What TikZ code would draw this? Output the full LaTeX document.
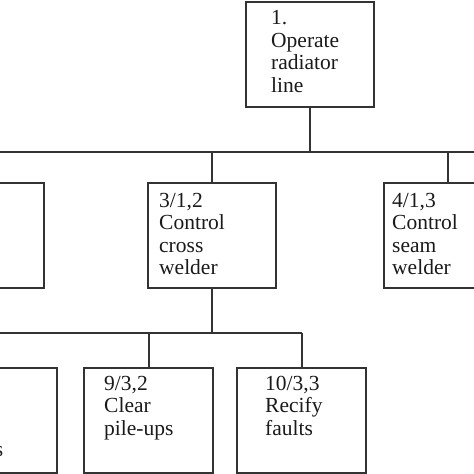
\documentclass[tikz,border=0pt]{standalone}
\usepackage{fontspec}
\setmainfont{Liberation Serif}
\definecolor{edge}{HTML}{333333}
\definecolor{ink}{HTML}{1A1A1A}
\tikzset{
  box/.style={draw=edge, line width=2pt, rectangle, inner sep=0pt,
    minimum width=128.5pt, minimum height=105.5pt, anchor=north west},
  lbl/.style={inner sep=0pt, anchor=base west, text=ink,
    font=\fontsize{21.5}{22.5}\selectfont},
  wire/.style={draw=edge, line width=2pt}
}
\newcommand{\lines}[1]{\parbox[t]{120pt}{\raggedright #1}}
\begin{document}
\begin{tikzpicture}[x=1pt,y=-1pt]
\useasboundingbox (0,0) rectangle (474,474);
\clip (0,0) rectangle (474,474);
% boxes
\node[box] (b1) at (244.5,0.6) {};
\node[box] (b2) at (-86,181.5) {};
\node[box] (b3) at (146.7,181.5) {};
\node[box] (b4) at (383,181.5) {};
\node[box] (b8) at (-72.5,366.8) {};
\node[box] (b9) at (83.3,366.8) {};
\node[box] (b10) at (236.3,366.8) {};
% texts
\node[lbl] (t1) at (271,24.5) {\lines{1.\\Operate\\radiator\\line}};
\node[lbl] (t3) at (159,207) {\lines{3/1,2\\Control\\cross\\welder}};
\node[lbl] (t4) at (392,207) {\lines{4/1,3\\Control\\seam\\welder}};
\node[lbl] (t9) at (104,390) {\lines{9/3,2\\Clear\\pile-ups}};
\node[lbl] (t10) at (265,390) {\lines{10/3,3\\Recify\\faults}};
\node[lbl, anchor=base east] (t8) at (3.5,456) {s};
% buses
\coordinate (busAL) at (-100,151.6);
\coordinate (busAR) at (490,151.6);
\coordinate (busBL) at (-100,333.4);
\coordinate (busBR) at (b10.north |- 0,333.4);
\draw[wire] (busAL) -- (busAR);
\draw[wire] (b1.south) -- (b1.south |- busAL);
\draw[wire] (b2.north |- busAL) -- (b2.north);
\draw[wire] (b3.north |- busAL) -- (b3.north);
\draw[wire] (b4.north |- busAL) -- (b4.north);
\draw[wire] (busBL) -- (busBR);
\draw[wire] (b3.south) -- (b3.south |- busBL);
\draw[wire] (b8.north |- busBL) -- (b8.north);
\draw[wire] (b9.north |- busBL) -- (b9.north);
\draw[wire] (busBR) -- (b10.north);
\end{tikzpicture}
\end{document}
